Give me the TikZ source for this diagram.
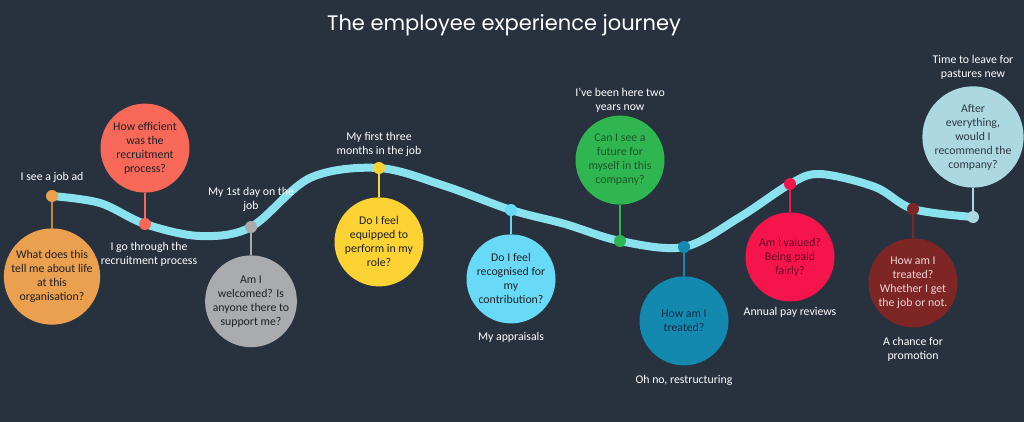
\documentclass[tikz,border=0pt]{standalone}
\usepackage{fontspec}
\setmainfont{Carlito}
\newfontfamily\titlefont{Poppins}
\usetikzlibrary{positioning}
\definecolor{bg}{RGB}{40,50,62}
\definecolor{roadC}{RGB}{137,226,238}
\definecolor{cOrange}{RGB}{234,160,78}
\definecolor{cBrown}{RGB}{190,135,70}
\definecolor{cSalmon}{RGB}{247,104,88}
\definecolor{cGrey}{RGB}{170,171,174}
\definecolor{cYellow}{RGB}{252,211,50}
\definecolor{cSky}{RGB}{104,218,247}
\definecolor{cGreen}{RGB}{48,182,80}
\definecolor{cTeal}{RGB}{20,137,176}
\definecolor{cPink}{RGB}{245,20,75}
\definecolor{cMaroon}{RGB}{125,38,37}
\definecolor{cMist}{RGB}{172,216,226}
\definecolor{ink}{RGB}{30,32,38}
\tikzset{
  bubble/.style={circle, minimum size=89pt, inner sep=0pt, align=center, font=\fontsize{11.8}{14}\selectfont, text=ink},
  dot/.style={circle, minimum size=12pt, inner sep=0pt},
  stem/.style={line width=1.6pt},
  road/.style={line width=8pt, color=roadC, line cap=round},
  lbl/.style={text=white, align=center, font=\fontsize{11.8}{14}\selectfont, inner sep=0pt}
}

\begin{document}
\begin{tikzpicture}[x=1pt, y=-1pt]
\fill[bg] (0,0) rectangle (1024,422);
\useasboundingbox (0,0) rectangle (1024,422);
\node[text=white, font=\titlefont\fontsize{21}{24}\selectfont] (title) at (504,25) {The employee experience journey};

% stages on the road
\coordinate (p1) at (52,196);
\coordinate (p2) at (145,224);
\coordinate (p3) at (251,227);
\coordinate (p4) at (379,168);
\coordinate (p5) at (511,210);
\coordinate (p6) at (620,241);
\coordinate (p7) at (684,247);
\coordinate (p8) at (790,184);
\coordinate (p9) at (913,209);
\coordinate (p10) at (973,217);

\draw[road] plot[smooth, tension=0.55] coordinates {(p1) (100,203) (p2) (200,236) (p3) (310,178) (p4) (445,186) (p5) (565,224) (p6) (p7) (740,217) (p8) (820,174) (875,187) (p9) (p10)};

\node[dot, fill=cOrange] (ad) at (p1) {};
\node[dot, fill=cSalmon] (recruit) at (p2) {};
\node[dot, fill=cGrey] (firstday) at (p3) {};
\node[dot, fill=cYellow] (months) at (p4) {};
\node[dot, fill=cSky] (appraisal) at (p5) {};
\node[dot, fill=cGreen] (twoyears) at (p6) {};
\node[dot, fill=cTeal] (restruct) at (p7) {};
\node[dot, fill=cPink] (payrev) at (p8) {};
\node[dot, fill=cMaroon] (promo) at (p9) {};
\node[dot, fill=cMist] (leave) at (p10) {};

\node[bubble, fill=cOrange, below=26pt of ad] (adQ) {What does this\\tell me about life\\at this\\organisation?};
\node[bubble, fill=cSalmon, above=25pt of recruit] (recruitQ) {How efficient\\was the\\recruitment\\process?};
\node[bubble, fill=cGrey, below=22pt of firstday] (firstdayQ) {Am I\\welcomed? Is\\anyone there to\\support me?};
\node[bubble, fill=cYellow, below=23pt of months] (monthsQ) {Do I feel\\equipped to\\perform in my\\role?};
\node[bubble, fill=cSky, below=18pt of appraisal] (appraisalQ) {Do I feel\\recognised for\\my\\contribution?};
\node[bubble, fill=cGreen, text={rgb,255:red,28;green,85;blue,42}, above=30pt of twoyears] (twoyearsQ) {Can I see a\\future for\\myself in this\\company?};
\node[bubble, fill=cTeal, text={rgb,255:red,18;green,45;blue,70}, below=23pt of restruct] (restructQ) {How am I\\treated?};
\node[bubble, fill=cPink, text={rgb,255:red,105;green,10;blue,38}, below=22pt of payrev] (payrevQ) {Am I valued?\\Being paid\\fairly?};
\node[bubble, fill=cMaroon, text={rgb,255:red,240;green,212;blue,212}, below=23pt of promo] (promoQ) {How am I\\treated?\\Whether I get\\the job or not.};
\node[bubble, fill=cMist, text={rgb,255:red,48;green,58;blue,68}, above=23pt of leave] (leaveQ) {After\\everything,\\would I\\recommend the\\company?};

\draw[stem, cBrown] (ad) -- (adQ);
\draw[stem, cSalmon] (recruit) -- (recruitQ);
\draw[stem, cGrey] (firstday) -- (firstdayQ);
\draw[stem, cYellow] (months) -- (monthsQ);
\draw[stem, cSky] (appraisal) -- (appraisalQ);
\draw[stem, cGreen] (twoyears) -- (twoyearsQ);
\draw[stem, cTeal] (restruct) -- (restructQ);
\draw[stem, cPink] (payrev) -- (payrevQ);
\draw[stem, cMaroon] (promo) -- (promoQ);
\draw[stem, cMist] (leave) -- (leaveQ);

\node[lbl, above=7pt of ad] (adL) {I see a job ad};
\node[lbl, below=12pt of recruit, xshift=4pt] (recruitL) {I go through the\\recruitment process};
\node[lbl, above=9pt of firstday] (firstdayL) {My 1st day on the\\job};
\node[lbl, above=5pt of months] (monthsL) {My first three\\months in the job};
\node[lbl, below=9pt of appraisalQ] (appraisalL) {My appraisals};
\node[lbl, above=3pt of twoyearsQ] (twoyearsL) {I've been here two\\years now};
\node[lbl, below=10pt of restructQ] (restructL) {Oh no, restructuring};
\node[lbl, below=6pt of payrevQ] (payrevL) {Annual pay reviews};
\node[lbl, below=10pt of promoQ] (promoL) {A chance for\\promotion};
\node[lbl, above=7pt of leaveQ] (leaveL) {Time to leave for\\pastures new};
\end{tikzpicture}
\end{document}
